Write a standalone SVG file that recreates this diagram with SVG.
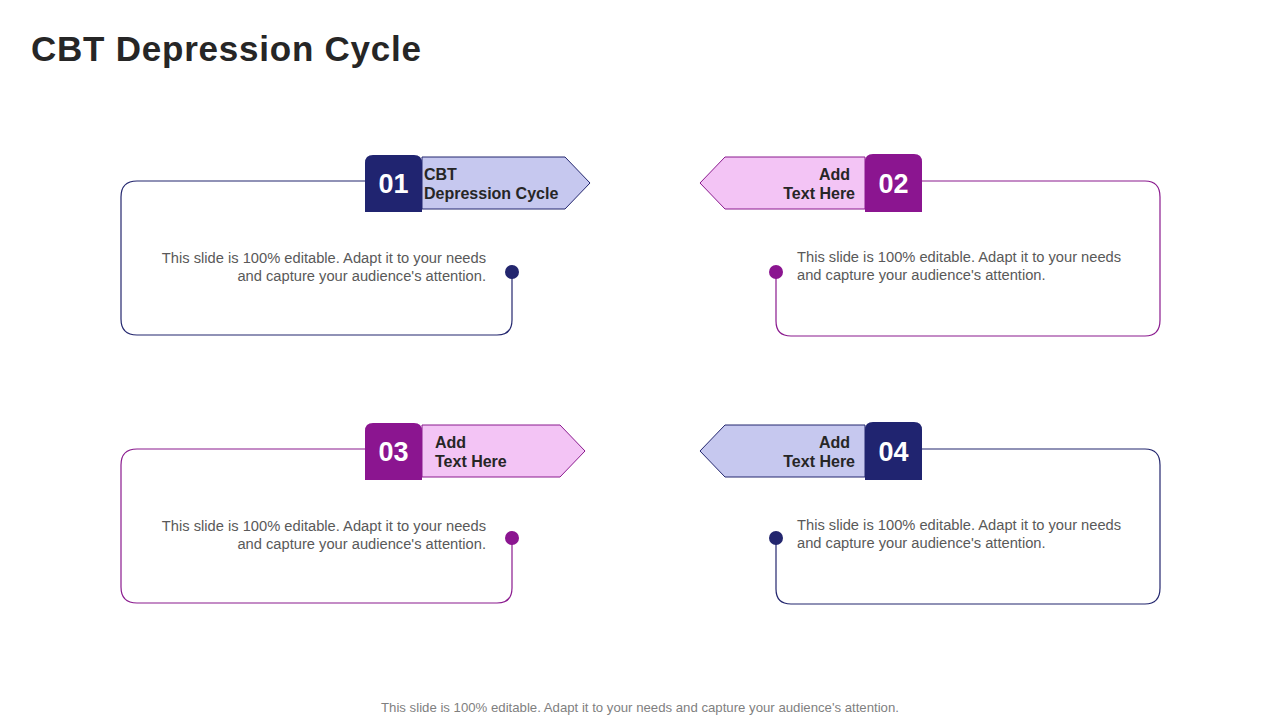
<svg xmlns="http://www.w3.org/2000/svg" width="1280" height="720" viewBox="0 0 1280 720">
<style>
.title{font-family:"Liberation Sans",Arial,sans-serif;font-weight:bold;font-size:35px;fill:#262626}
.num{font-family:"Liberation Sans",Arial,sans-serif;font-weight:bold;font-size:27px;fill:#ffffff}
.lbl{font-family:"Liberation Sans",Arial,sans-serif;font-weight:bold;font-size:16px;fill:#262626}
.body{font-family:"Liberation Sans",Arial,sans-serif;font-size:14.7px;fill:#595959}
.foot{font-family:"Liberation Sans",Arial,sans-serif;font-size:13.2px;fill:#7f7f7f}
.navy{stroke:#23266e}
.purp{stroke:#8a1a8e}
.line{fill:none;stroke-width:1.2}
</style>
<rect width="1280" height="720" fill="#ffffff"/>
<text class="title" x="31" y="61" textLength="390">CBT Depression Cycle</text>

<g id="connectors">
<path class="line navy" d="M365,181 H137 Q121,181 121,197 V319 Q121,335 137,335 H497 Q512,335 512,320 V272"/>
<path class="line purp" d="M922,181 H1145 Q1160,181 1160,197 V320 Q1160,336 1145,336 H791 Q776,336 776,321 V272"/>
<path class="line purp" d="M365,449 H137 Q121,449 121,465 V587 Q121,603 137,603 H497 Q512,603 512,588 V538"/>
<path class="line navy" d="M922,449 H1145 Q1160,449 1160,465 V588 Q1160,604 1145,604 H791 Q776,604 776,589 V538"/>
</g>

<g id="node1">
<path d="M422,157 H565 L590,183 L565,209 H422 Z" fill="#c6c8ef" stroke="#23266e" stroke-width="1"/>
<path d="M365,212 V163 Q365,155 373,155 H414 Q422,155 422,163 V212 Z" fill="#202470"/>
<text class="num" x="393.5" y="193" text-anchor="middle">01</text>
<text class="lbl" x="424" y="180">CBT</text>
<text class="lbl" x="424" y="199">Depression Cycle</text>
<circle cx="512" cy="272" r="7" fill="#23266e"/>
<text class="body" x="486" y="263" text-anchor="end">This slide is 100% editable. Adapt it to your needs</text>
<text class="body" x="486" y="281" text-anchor="end">and capture your audience's attention.</text>
</g>

<g id="node2">
<path d="M865,157 H725 L700,183 L725,209 H865 Z" fill="#f3c4f5" stroke="#8a1a8e" stroke-width="1"/>
<path d="M865,212 V162 Q865,154 873,154 H914 Q922,154 922,162 V212 Z" fill="#8b1590"/>
<text class="num" x="893.5" y="193" text-anchor="middle">02</text>
<text class="lbl" x="850" y="180" text-anchor="end">Add</text>
<text class="lbl" x="855" y="199" text-anchor="end">Text Here</text>
<circle cx="776" cy="272" r="7" fill="#8b1590"/>
<text class="body" x="797" y="262">This slide is 100% editable. Adapt it to your needs</text>
<text class="body" x="797" y="280">and capture your audience's attention.</text>
</g>

<g id="node3">
<path d="M422,425 H560 L585,451 L560,477 H422 Z" fill="#f3c4f5" stroke="#8a1a8e" stroke-width="1"/>
<path d="M365,480 V431 Q365,423 373,423 H414 Q422,423 422,431 V480 Z" fill="#8b1590"/>
<text class="num" x="393.5" y="461" text-anchor="middle">03</text>
<text class="lbl" x="435" y="448">Add</text>
<text class="lbl" x="435" y="467">Text Here</text>
<circle cx="512" cy="538" r="7" fill="#8b1590"/>
<text class="body" x="486" y="531" text-anchor="end">This slide is 100% editable. Adapt it to your needs</text>
<text class="body" x="486" y="549" text-anchor="end">and capture your audience's attention.</text>
</g>

<g id="node4">
<path d="M865,425 H725 L700,451 L725,477 H865 Z" fill="#c6c8ef" stroke="#23266e" stroke-width="1"/>
<path d="M865,480 V430 Q865,422 873,422 H914 Q922,422 922,430 V480 Z" fill="#202470"/>
<text class="num" x="893.5" y="461" text-anchor="middle">04</text>
<text class="lbl" x="850" y="448" text-anchor="end">Add</text>
<text class="lbl" x="855" y="467" text-anchor="end">Text Here</text>
<circle cx="776" cy="538" r="7" fill="#23266e"/>
<text class="body" x="797" y="530">This slide is 100% editable. Adapt it to your needs</text>
<text class="body" x="797" y="548">and capture your audience's attention.</text>
</g>

<text class="foot" x="640" y="712" text-anchor="middle">This slide is 100% editable. Adapt it to your needs and capture your audience's attention.</text>
</svg>
